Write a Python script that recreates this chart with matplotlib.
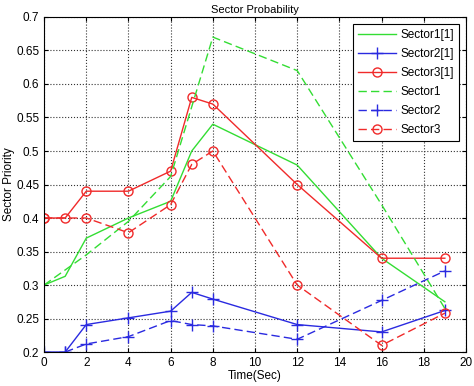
import numpy as np
import matplotlib.pyplot as plt

# time points and sector probabilities
t_full = [0, 1, 2, 4, 6, 7, 8, 12, 16, 19]
s1_solid = [0.30, 0.313, 0.37, 0.40, 0.425, 0.50, 0.54, 0.479, 0.34, 0.275]
s2_solid = [0.20, 0.20, 0.241, 0.251, 0.261, 0.289, 0.279, 0.241, 0.230, 0.262]
s3_solid = [0.40, 0.40, 0.44, 0.44, 0.47, 0.58, 0.57, 0.45, 0.34, 0.34]

t_s1 = [0, 2, 4, 6, 8, 12, 16, 19]
s1_dash = [0.30, 0.345, 0.395, 0.462, 0.67, 0.62, 0.42, 0.265]
t_s2 = [1, 2, 4, 6, 7, 8, 12, 16, 19]
s2_dash = [0.20, 0.212, 0.223, 0.247, 0.241, 0.239, 0.219, 0.277, 0.321]
t_s3 = [0, 2, 4, 6, 7, 8, 12, 16, 19]
s3_dash = [0.40, 0.40, 0.378, 0.42, 0.48, 0.50, 0.30, 0.21, 0.258]

plt.rcParams['font.family'] = ['Liberation Sans', 'DejaVu Sans']
fig = plt.figure(figsize=(4.74, 3.86), dpi=100)
ax = fig.add_axes([0.093, 0.088, 0.89, 0.868])

green = '#33dd33'
blue = '#2a2ae0'
red = '#f02a2a'

ax.plot(t_full, s1_solid, '-', color=green, lw=1, label='Sector1[1]')
ax.plot(t_full, s2_solid, '-', color=blue, lw=1, marker='+', ms=8, mew=1, label='Sector2[1]')
ax.plot(t_full, s3_solid, '-', color=red, lw=1, marker='o', ms=6.5, mfc='none', mew=1, label='Sector3[1]')
ax.plot(t_s1, s1_dash, '--', color=green, lw=1, dashes=(6, 3), label='Sector1')
ax.plot(t_s2, s2_dash, '--', color=blue, lw=1, dashes=(6, 3), marker='+', ms=8, mew=1, label='Sector2')
ax.plot(t_s3, s3_dash, '--', color=red, lw=1, dashes=(6, 3), marker='o', ms=6.5, mfc='none', mew=1, label='Sector3')

ax.set_xlim(0, 20)
ax.set_ylim(0.2, 0.7)
ax.set_xticks(np.arange(0, 21, 2))
ax.set_yticks(np.arange(0.2, 0.701, 0.05))
ax.set_yticklabels(['0.2', '0.25', '0.3', '0.35', '0.4', '0.45', '0.5', '0.55', '0.6', '0.65', '0.7'])
ax.grid(True, color='#333333', linestyle=':', linewidth=0.8)
ax.tick_params(labelsize=8.5, direction='in', length=3, top=True, right=True)
for sp in ax.spines.values():
    sp.set_linewidth(0.8)

ax.set_title('Sector Probability', fontsize=8, pad=3)
ax.set_xlabel('Time(Sec)', fontsize=8.5, labelpad=1)
ax.set_ylabel('Sector Priority', fontsize=8.5, labelpad=1)

leg = ax.legend(loc='upper right', fontsize=8.5, fancybox=False, framealpha=1,
                edgecolor='black', handlelength=3.2, handletextpad=0.4,
                borderaxespad=0.6, labelspacing=0.6)
leg.get_frame().set_linewidth(0.8)

fig.savefig('out.png', dpi=100)
